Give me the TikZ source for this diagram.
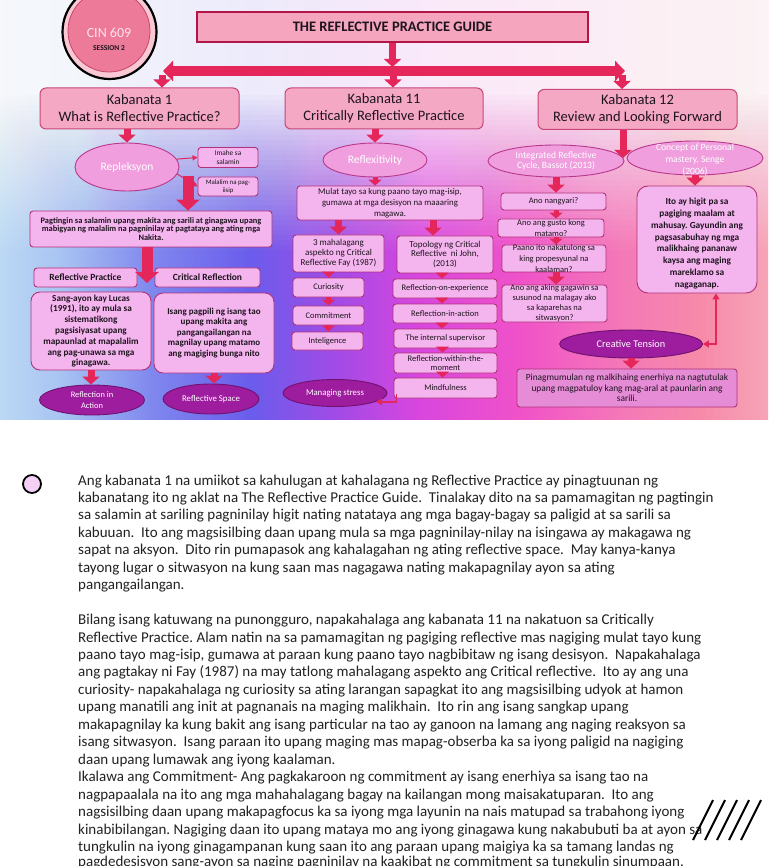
\documentclass[tikz,border=0pt]{standalone}
\usepackage{fontspec}
\setmainfont{Carlito}
\usetikzlibrary{shapes.geometric,arrows.meta}
\definecolor{arr}{RGB}{228,38,90}
\definecolor{kfill}{RGB}{245,168,196}
\definecolor{kbord}{RGB}{200,70,120}
\definecolor{lfill}{RGB}{244,180,238}
\definecolor{lbord}{RGB}{176,50,120}
\definecolor{pell}{RGB}{240,158,222}
\definecolor{pellb}{RGB}{184,56,140}
\definecolor{vell}{RGB}{158,28,158}
\definecolor{vellb}{RGB}{112,18,112}
\definecolor{pinf}{RGB}{230,140,214}
\definecolor{titf}{RGB}{245,166,190}
\definecolor{titb}{RGB}{178,22,70}
\definecolor{cinout}{RGB}{248,200,212}
\definecolor{cinin}{RGB}{236,122,152}
\definecolor{cinb}{RGB}{200,70,105}
\definecolor{cint}{RGB}{253,228,236}
\definecolor{txtc}{RGB}{30,20,30}
\definecolor{bodyc}{RGB}{34,34,34}
\definecolor{bul}{RGB}{245,208,245}
\definecolor{bg0}{RGB}{188,216,244}
\definecolor{bg1}{RGB}{168,196,242}
\definecolor{bg2}{RGB}{128,136,238}
\definecolor{bg3}{RGB}{106,92,236}
\definecolor{bg4}{RGB}{164,74,230}
\definecolor{bg5}{RGB}{216,70,222}
\definecolor{bg6}{RGB}{240,82,200}
\definecolor{bg7}{RGB}{244,120,184}
\definecolor{bg8}{RGB}{246,138,168}
\definecolor{bg9}{RGB}{246,164,184}
\pgfdeclarehorizontalshading{bgsh}{100bp}{color(0bp)=(bg0); color(25bp)=(bg0); color(28.9bp)=(bg1); color(34.8bp)=(bg2); color(41.3bp)=(bg3); color(47.1bp)=(bg4); color(52.3bp)=(bg5); color(58.9bp)=(bg6); color(65.4bp)=(bg7); color(70.6bp)=(bg8); color(75bp)=(bg9); color(100bp)=(bg9)}
\newcommand\fs[2]{\fontsize{#1}{#2}\selectfont}
\newcommand\mybox[8][]{%
  \node[#2,minimum width=#6pt,minimum height=#7pt,inner sep=0pt] (#3) at (#4,#5) {};
  \node[tx,#1] (#3t) at (#3.center) {#8};}
\frenchspacing
\tikzset{
  kbox/.style={draw=kbord, fill=kfill, line width=1pt, rounded corners=6pt},
  lbox/.style={draw=lbord, fill=lfill, line width=0.9pt, rounded corners=3pt},
  rbox/.style={lbox, rounded corners=9pt},
  pel/.style={ellipse, draw=pellb, fill=pell, line width=0.9pt},
  vel/.style={ellipse, draw=vellb, fill=vell, line width=0.9pt},
  tx/.style={align=center, inner sep=0pt, text=txtc},
  wt/.style={text=white},
  fat/.style={draw=arr, line width=7pt, -{Triangle[width=17pt,length=8pt]}},
  fats/.style={draw=arr, line width=5pt, -{Triangle[width=13pt,length=6pt]}},
  fatb/.style={draw=arr, line width=11pt, -{Triangle[width=23pt,length=11pt]}},
  thinar/.style={draw=arr, line width=1pt, -{Triangle[width=5pt,length=5pt]}},
  dblar/.style={draw=arr, line width=1.8pt, {Triangle[width=7pt,length=6pt]}-{Triangle[width=7pt,length=6pt]}},
  body/.style={anchor=base west, inner sep=0pt, font=\fs{15}{17}, text=bodyc},
}
\begin{document}
\begin{tikzpicture}[x=1pt,y=-1pt]
\useasboundingbox (0,0) rectangle (768,866);
\clip (0,0) rectangle (768,866);
% background
\shade[shading=bgsh] (0,0) rectangle (768,420);
\foreach \yk in {250,245,...,95} {
  \pgfmathsetmacro\oa{0.9*(250-\yk)/160}
  \pgfmathsetmacro\ob{0.9*(255-\yk)/160}
  \pgfmathsetmacro\aa{1-(1-\ob)/(1-\oa)}
  \fill[white, fill opacity=\aa] (0,0) rectangle (768,\yk);
}
\fill[white] (0,420) rectangle (768,866);

% CIN circle
\node[circle, draw=black, line width=2.2pt, fill=cinout, minimum size=94pt, inner sep=0pt] (cino) at (109.5,32) {};
\node[circle, draw=cinb, line width=0.8pt, fill=cinin, minimum size=82pt, inner sep=0pt] (cini) at (109,31) {};
\node[tx, text=cint, font=\fs{14}{16}] (cin) at (109,33) {CIN 609};
\node[tx, font=\bfseries\fs{7.5}{9}] (ses) at (109,48) {SESSION 2};

% title
\node[draw=titb, fill=titf, line width=2.2pt, minimum width=391pt, minimum height=30pt, inner sep=0pt, text=txtc, font=\bfseries\fs{14.5}{16}] (title) at (392.5,27) {THE REFLECTIVE PRACTICE GUIDE};

% top bar
\coordinate (bL) at (163,71);
\coordinate (bR) at (625,71);
\coordinate (bC) at (392.5,67);
\coordinate (dL) at (162,75);
\coordinate (dC) at (393,75);
\coordinate (dR) at (622,75);
\draw[fat] (title.south) -- (bC);
\draw[draw=arr, line width=10pt, {Triangle[width=20pt,length=10pt]}-{Triangle[width=20pt,length=10pt]}] (bL) -- (bR);

% Kabanata boxes
\mybox[font=\fs{14.5}{17}]{kbox}{k1}{139.5}{108.5}{199}{41}{Kabanata 1\\What is Reflective Practice?}
\mybox[font=\fs{14.5}{17}]{kbox}{k11}{384}{108.5}{198}{41}{Kabanata 11\\Critically Reflective Practice}
\mybox[font=\fs{14.5}{17}]{kbox}{k12}{637.5}{109.5}{199}{40}{Kabanata 12\\Review and Looking Forward}
\draw[fat] (dL) -- (dL |- k1.north);
\draw[fat] (dC) -- (dC |- k11.north);
\draw[fat] (dR) -- (dR |- k12.north);

% column 1
\mybox[wt,font=\fs{11.5}{13}]{pel}{rep}{127}{167}{104}{48}{Repleksyon}
\mybox[font=\fs{7.3}{9}]{lbox}{ima}{228}{157.5}{60}{20}{Imahe sa\\salamin}
\mybox[font=\fs{6.8}{8}]{lbox}{mal}{228}{186.5}{60}{19}{Malalim na pag-\\iisip}
\mybox[font=\bfseries\fs{8.4}{8.7}]{lbox}{pag}{151}{229}{242}{36}{Pagtingin sa salamin upang makita ang sarili at ginagawa upang\\mabigyan ng malalim na pagninilay at pagtataya ang ating mga\\Nakita.}
\mybox[font=\bfseries\fs{9.5}{11}]{lbox}{rp}{85.5}{277.5}{103}{19}{Reflective Practice}
\mybox[font=\bfseries\fs{9.5}{11}]{lbox}{cr}{207.5}{277.5}{105}{19}{Critical Reflection}
\mybox[font=\bfseries\fs{9.2}{10.8}]{rbox}{luc}{91}{331}{120}{78}{Sang-ayon kay Lucas\\(1991), ito ay mula sa\\sistematikong\\pagsisiyasat upang\\mapaunlad at mapalalim\\ang pag-unawa sa mga\\ginagawa.}
\mybox[font=\bfseries\fs{9}{10.4}]{rbox}{isa}{214}{333}{120}{80}{Isang pagpili ng isang tao\\upang makita ang\\pangangailangan na\\magnilay upang matamo\\ang magiging bunga nito}
\mybox[wt,font=\fs{8.4}{11}]{vel}{ria}{92}{400}{105}{30}{Reflection in\\Action}
\mybox[wt,font=\fs{8.8}{11}]{vel}{rsp}{211}{399}{96}{30}{Reflective Space}
\coordinate (bigs) at (188,176);
\coordinate (pm) at (147,283);
\draw[fat] (k1.south -| rep.north) -- (rep.north);
\draw[thinar] (rep.9) -- (ima.west);
\draw[thinar] (rep.-8) -- (mal.west);
\draw[fatb] (bigs) -- (bigs |- pag.north);
\draw[fatb] (pag.south -| pm) -- (pm);
\draw[fat] (luc.south) -- (luc.south |- ria.north);
\draw[fat] (isa.south) -- (isa.south |- rsp.north);

% column 2
\mybox[wt,font=\fs{11.5}{13}]{pel}{rfx}{375}{160}{104}{34}{Reflexitivity}
\mybox[font=\fs{8.8}{10.8}]{lbox}{mul}{390}{203}{186}{34}{Mulat tayo sa kung paano tayo mag-isip,\\gumawa at mga desisyon na maaaring\\magawa.}
\mybox[font=\fs{9}{10}]{lbox}{fay}{338.5}{253.5}{91}{37}{3 mahalagang\\aspekto ng Critical\\Reflective Fay (1987)}
\mybox[font=\fs{9}{10}]{lbox}{top}{445}{254.5}{96}{37}{Topology ng Critical\\Reflective\ \ ni John,\\(2013)}
\mybox[font=\fs{8.5}{10}]{lbox}{cur}{328.5}{287.5}{71}{19}{Curiosity}
\mybox[font=\fs{8.5}{10}]{lbox}{com}{328.5}{315.5}{71}{19}{Commitment}
\mybox[font=\fs{8.5}{10}]{lbox}{int}{327.5}{341}{71}{18}{Inteligence}
\mybox[font=\fs{8.5}{10}]{lbox}{roe}{445}{288.5}{104}{19}{Reflection-on-experience}
\mybox[font=\fs{8.5}{10}]{lbox}{rin}{445}{313.5}{104}{19}{Reflection-in-action}
\mybox[font=\fs{8.5}{10}]{lbox}{tis}{445.5}{338.5}{103}{19}{The internal supervisor}
\mybox[font=\fs{8.5}{9.5}]{lbox}{rwm}{445.5}{363}{103}{20}{Reflection-within-the-\\moment}
\mybox[font=\fs{8.5}{10}]{lbox}{mnd}{445.5}{388}{103}{20}{Mindfulness}
\mybox[wt,font=\fs{8.8}{11}]{vel}{ms}{335}{393}{104}{27}{Managing stress}
\draw[fat] (k11.south -| rfx.north) -- (rfx.north);
\draw[fats] (rfx.south) -- (rfx.south |- mul.north);
\draw[fat] (mul.south -| fay.north) -- (fay.north);
\draw[fat] ([xshift=-12pt]top.north |- mul.south) -- ([xshift=-12pt]top.north);
\draw[fats] (cur.north |- fay.south) -- (cur.north);
\draw[fats] (cur.south) -- (com.north);
\draw[fats] (com.south) -- (com.south |- int.north);
\draw[fats] ([xshift=-3pt]roe.north |- top.south) -- ([xshift=-3pt]roe.north);
\draw[fats] ([xshift=-3pt]roe.south) -- ([xshift=-3pt]rin.north);
\draw[fats] ([xshift=-3pt]rin.south) -- ([xshift=-3pt]rin.south |- tis.north);
\draw[fats] ([xshift=-3pt]tis.south) -- ([xshift=-3pt]rwm.north);
\draw[fats] ([xshift=-3pt]rwm.south) -- ([xshift=-3pt]mnd.north);
\draw[dblar, {-Triangle[width=7pt,length=6pt]}] ([xshift=3pt,yshift=4pt]mnd.south west) |- (ms.-12);

% column 3
\coordinate (k12a) at (623,158);
\mybox[wt,font=\fs{9.6}{10.7}]{pel}{irc}{556}{161}{136}{32}{Integrated Reflective\\Cycle, Bassot (2013)}
\node[pel, minimum width=136pt, minimum height=34pt, inner sep=0pt] (cpm) at (695,158) {};
\node[tx, wt, font=\fs{9.6}{12}] (cpmt) at (695,160) {Concept of Personal\\mastery, Senge\\(2006)};
\mybox[font=\fs{8.5}{10}]{lbox}{ano1}{553.5}{201.5}{105}{17}{Ano nangyari?}
\mybox[font=\fs{8.5}{10.5}]{lbox}{ano2}{551}{228}{106}{18}{Ano ang gusto kong\\matamo?}
\mybox[font=\fs{8.5}{10.8}]{lbox}{ano3}{554}{258.5}{104}{27}{Paano ito nakatulong sa\\king propesyunal na\\kaalaman?}
\mybox[font=\fs{8.5}{10}]{lbox}{ano4}{554.5}{303.5}{105}{37}{Ano ang aking gagawin sa\\susunod na malagay ako\\sa kaparehas na\\sitwasyon?}
\mybox[yshift=-4pt,font=\bfseries\fs{9.3}{11.8}]{lbox, rounded corners=11pt}{ito}{697}{239.5}{120}{107}{Ito ay higit pa sa\\pagiging maalam at\\mahusay. Gayundin ang\\pagsasabuhay ng mga\\malikhaing pananaw\\kaysa ang maging\\mareklamo sa\\nagaganap.}
\mybox[wt,font=\fs{10.3}{12}]{vel}{ct}{631}{344}{143}{28}{Creative Tension}
\mybox[font=\fs{9.4}{10.5}]{lbox, fill=pinf}{pin}{627}{388}{220}{38}{Pinagmumulan ng malkihaing enerhiya na nagtutulak\\upang magpatuloy kang mag-aral at paunlarin ang\\sarili.}
\draw[fat] (k12.south -| k12a) -- (k12a);
\draw[fat] (irc.south) -- (irc.south |- ano1.north);
\draw[fats] (ano1.south -| irc.south) -- (ano2.north -| irc.south);
\draw[fats] (ano2.south -| irc.south) -- (ano3.north -| irc.south);
\draw[fat] (ano3.south -| irc.south) -- (ano4.north -| irc.south);
\draw[fat] (cpm.south) -- (cpm.south |- ito.north);
\draw[dblar] (ct.east) -| ([xshift=19pt]ito.south);
\draw[fat] (ct.south) -- (ct.south |- pin.north);

% body text
\node[circle, draw=black, line width=1.8pt, fill=bul, minimum size=18pt, inner sep=0pt] (bullet) at (32,484) {};
\node[body] (t1) at (78,485) {Ang kabanata 1 na umiikot sa kahulugan at kahalagana ng Reflective Practice ay pinagtuunan ng};
\node[body] (t2) at (78,502.45) {kabanatang ito ng aklat na The Reflective Practice Guide.\ \ Tinalakay dito na sa pamamagitan ng pagtingin};
\node[body] (t3) at (78,519.9) {sa salamin at sariling pagninilay higit nating natataya ang mga bagay-bagay sa paligid at sa sarili sa};
\node[body] (t4) at (78,537.35) {kabuuan.\ \ Ito ang magsisilbing daan upang mula sa mga pagninilay-nilay na isingawa ay makagawa ng};
\node[body] (t5) at (78,554.8) {sapat na aksyon.\ \ Dito rin pumapasok ang kahalagahan ng ating reflective space.\ \ May kanya-kanya};
\node[body] (t6) at (78,572.25) {tayong lugar o sitwasyon na kung saan mas nagagawa nating makapagnilay ayon sa ating};
\node[body] (t7) at (78,589.7) {pangangailangan.};
\node[body] (t8) at (78,624.6) {Bilang isang katuwang na punongguro, napakahalaga ang kabanata 11 na nakatuon sa Critically};
\node[body] (t9) at (78,642.05) {Reflective Practice. Alam natin na sa pamamagitan ng pagiging reflective mas nagiging mulat tayo kung};
\node[body] (t10) at (78,659.5) {paano tayo mag-isip, gumawa at paraan kung paano tayo nagbibitaw ng isang desisyon.\ \ Napakahalaga};
\node[body] (t11) at (78,676.95) {ang pagtakay ni Fay (1987) na may tatlong mahalagang aspekto ang Critical reflective.\ \ Ito ay ang una};
\node[body] (t12) at (78,694.4) {curiosity- napakahalaga ng curiosity sa ating larangan sapagkat ito ang magsisilbing udyok at hamon};
\node[body] (t13) at (78,711.85) {upang manatili ang init at pagnanais na maging malikhain.\ \ Ito rin ang isang sangkap upang};
\node[body] (t14) at (78,729.3) {makapagnilay ka kung bakit ang isang particular na tao ay ganoon na lamang ang naging reaksyon sa};
\node[body] (t15) at (78,746.75) {isang sitwasyon.\ \ Isang paraan ito upang maging mas mapag-obserba ka sa iyong paligid na nagiging};
\node[body] (t16) at (78,764.2) {daan upang lumawak ang iyong kaalaman.};
\node[body] (t17) at (78,781.65) {Ikalawa ang Commitment- Ang pagkakaroon ng commitment ay isang enerhiya sa isang tao na};
\node[body] (t18) at (78,799.1) {nagpapaalala na ito ang mga mahahalagang bagay na kailangan mong maisakatuparan.\ \ Ito ang};
\node[body] (t19) at (78,816.55) {nagsisilbing daan upang makapagfocus ka sa iyong mga layunin na nais matupad sa trabahong iyong};
\node[body] (t20) at (78,834) {kinabibilangan. Nagiging daan ito upang mataya mo ang iyong ginagawa kung nakabubuti ba at ayon sa};
\node[body] (t21) at (78,851.45) {tungkulin na iyong ginagampanan kung saan ito ang paraan upang maigiya ka sa tamang landas ng};
\node[body] (t22) at (78,866.5) {pagdedesisyon sang-ayon sa naging pagninilay na kaakibat ng commitment sa tungkulin sinumpaan.};

% hatch marks
\foreach \k in {0,...,4} {
  \draw[black, line width=2pt] (693+12*\k,840) -- (713+12*\k,800);
}
\end{tikzpicture}
\end{document}
